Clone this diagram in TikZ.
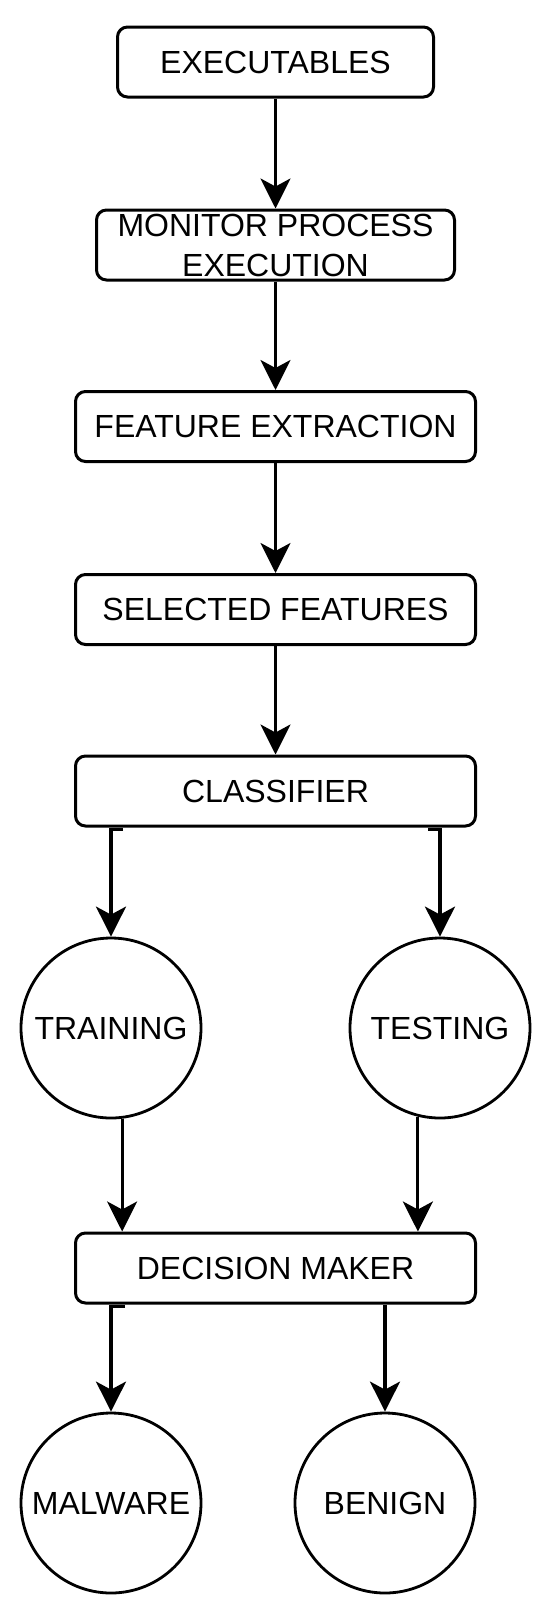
\documentclass[tikz,border=0pt]{standalone}
\usepackage{fontspec}
\setmainfont{Liberation Sans}
\usetikzlibrary{arrows.meta}
\begin{document}
\begin{tikzpicture}[
  x=0.5pt,y=-0.5pt,
  every node/.style={font=\fontsize{16}{20}\selectfont},
  proc/.style={shape=rectangle,draw=black,line width=1.5pt,rounded corners=5pt,inner sep=0pt,align=center,minimum width=200pt,minimum height=35pt},
  outcome/.style={shape=circle,draw=black,line width=1.4pt,inner sep=0pt,minimum size=90pt},
  flow/.style={draw=black,line width=1.6pt,-{Stealth[length=15pt,width=15pt,inset=4pt]}}
]
  \useasboundingbox (0,0) rectangle (550,1618);

  \node[proc,minimum width=158pt] (Executables) at (275.5,62)    {EXECUTABLES};
  \node[proc,minimum width=179pt] (Monitor)     at (275.5,245)   {MONITOR PROCESS\\EXECUTION};
  \node[proc] (Extraction) at (275.5,426.5) {FEATURE EXTRACTION};
  \node[proc] (Selected)   at (275.5,609.5) {SELECTED FEATURES};
  \node[proc] (Classifier) at (275.5,791)   {CLASSIFIER};
  \node[outcome] (Training) at (111,1028) {TRAINING};
  \node[outcome] (Testing)  at (440,1028) {TESTING};
  \node[proc] (Decision)   at (275.5,1268)  {DECISION MAKER};
  \node[outcome] (Malware)  at (111,1503) {MALWARE};
  \node[outcome] (Benign)   at (385,1503) {BENIGN};

  \draw[flow] (Executables) -- (Monitor);
  \draw[flow] (Monitor) -- (Extraction);
  \draw[flow] (Extraction) -- (Selected);
  \draw[flow] (Selected) -- (Classifier);

  \draw[flow] ([xshift=6pt,yshift=-1pt]Classifier.south -| Training.north) -| (Training.north);
  \draw[flow] ([xshift=-6pt,yshift=-1pt]Classifier.south -| Testing.north) -| (Testing.north);

  \draw[flow] (Training.-83) -- (Training.-83 |- Decision.north);
  \draw[flow] (Testing.-104) -- (Testing.-104 |- Decision.north);

  \draw[flow] ([xshift=7pt,yshift=-1pt]Decision.south -| Malware.north) -| (Malware.north);
  \draw[flow] (Decision.south -| Benign.north) -- (Benign.north);
\end{tikzpicture}
\end{document}
